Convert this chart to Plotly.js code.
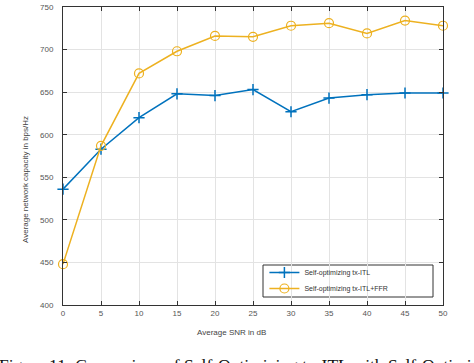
<!DOCTYPE html>
<html>
<head>
<meta charset="utf-8">
<script src="https://cdn.plot.ly/plotly-3.0.1.min.js"></script>
<style>html,body{margin:0;padding:0;background:#fff;}#chart{width:474px;height:363px;}</style>
</head>
<body>
<div id="chart"></div>
<script>
const snr = [0, 5, 10, 15, 20, 25, 30, 35, 40, 45, 50];
const txItl = [536, 583, 620, 648, 646, 653, 627, 643, 647, 649, 649];
const txItlFfr = [448, 587, 672, 698, 716, 715, 728, 731, 719, 734, 728];
const seriesNames = ['Self-optimizing tx-ITL', 'Self-optimizing tx-ITL+FFR'];
const xTicks = [0, 5, 10, 15, 20, 25, 30, 35, 40, 45, 50];
const yTicks = [400, 450, 500, 550, 600, 650, 700, 750];
const caption = 'Figure 11: Comparison of Self-Optimizing tx-ITL with Self-Optimizing tx-ITL+FFR';

const traces = [
  {x: snr, y: txItl, name: seriesNames[0], mode: 'lines+markers', type: 'scatter', legend: 'legend',
   cliponaxis: false,
   line: {color: '#0072BD', width: 1.5},
   marker: {symbol: 'cross-thin', size: 8, line: {color: '#0072BD', width: 1.5}}},
  {x: snr, y: txItlFfr, name: seriesNames[1], mode: 'lines+markers', type: 'scatter', legend: 'legend2',
   cliponaxis: false,
   line: {color: '#EDB120', width: 1.5},
   marker: {symbol: 'circle-open', size: 9, color: '#EDB120', line: {color: '#EDB120', width: 1.2}}}
];

const axisCommon = {
  showline: true, mirror: 'ticks', linecolor: '#333', linewidth: 1,
  ticks: 'inside', ticklen: 4, tickcolor: '#333', tickwidth: 1,
  showgrid: true, gridcolor: '#e3e3e3', gridwidth: 1, zeroline: false,
  tickfont: {family: 'Liberation Sans, Arial, sans-serif', size: 8, color: '#555'}
};

const legendCommon = {x: 0.53, xanchor: 'left', yanchor: 'top', bgcolor: 'rgba(255,255,255,0)',
  borderwidth: 0, font: {family: 'Liberation Sans, Arial, sans-serif', size: 7, color: '#333'},
  tracegroupgap: 0, itemwidth: 30};

const layout = {
  width: 474, height: 363,
  margin: {l: 63, r: 31, t: 7, b: 58},
  paper_bgcolor: '#fff', plot_bgcolor: '#fff',
  showlegend: true,
  xaxis: Object.assign({}, axisCommon, {range: [0, 50], tickvals: xTicks, ticktext: xTicks.map(String)}),
  yaxis: Object.assign({}, axisCommon, {range: [400, 750], tickvals: yTicks, ticktext: yTicks.map(String), ticklabelstandoff: 7}),
  legend: Object.assign({}, legendCommon, {y: (305 - 258) / 298}),
  legend2: Object.assign({}, legendCommon, {y: (305 - 274) / 298}),
  shapes: [{type: 'rect', xref: 'paper', yref: 'paper',
            x0: (263 - 63) / 380, x1: (433 - 63) / 380, y0: (305 - 297) / 298, y1: (305 - 265) / 298,
            line: {color: '#333', width: 1}, fillcolor: 'rgba(255,255,255,1)', layer: 'below'}],
  annotations: [
    {text: 'Average SNR in dB', xref: 'paper', yref: 'paper', x: (231 - 63) / 380, y: (305 - 332) / 298,
     xanchor: 'center', yanchor: 'middle', showarrow: false,
     font: {family: 'Liberation Sans, Arial, sans-serif', size: 8, color: '#444'}},
    {text: 'Average network capacity in bps/Hz', xref: 'paper', yref: 'paper', x: (25 - 63) / 380, y: (305 - 180) / 298,
     xanchor: 'center', yanchor: 'middle', showarrow: false, textangle: -90,
     font: {family: 'Liberation Sans, Arial, sans-serif', size: 8, color: '#444'}},
    {text: caption, xref: 'paper', yref: 'paper',
     x: -66 / 380, y: (305 - 353) / 298, xanchor: 'left', yanchor: 'top', showarrow: false,
     font: {family: 'Liberation Serif, DejaVu Serif, serif', size: 17.5, color: '#111'}}
  ]
};

Plotly.newPlot('chart', traces, layout, {staticPlot: true, displayModeBar: false});
</script>
</body>
</html>
